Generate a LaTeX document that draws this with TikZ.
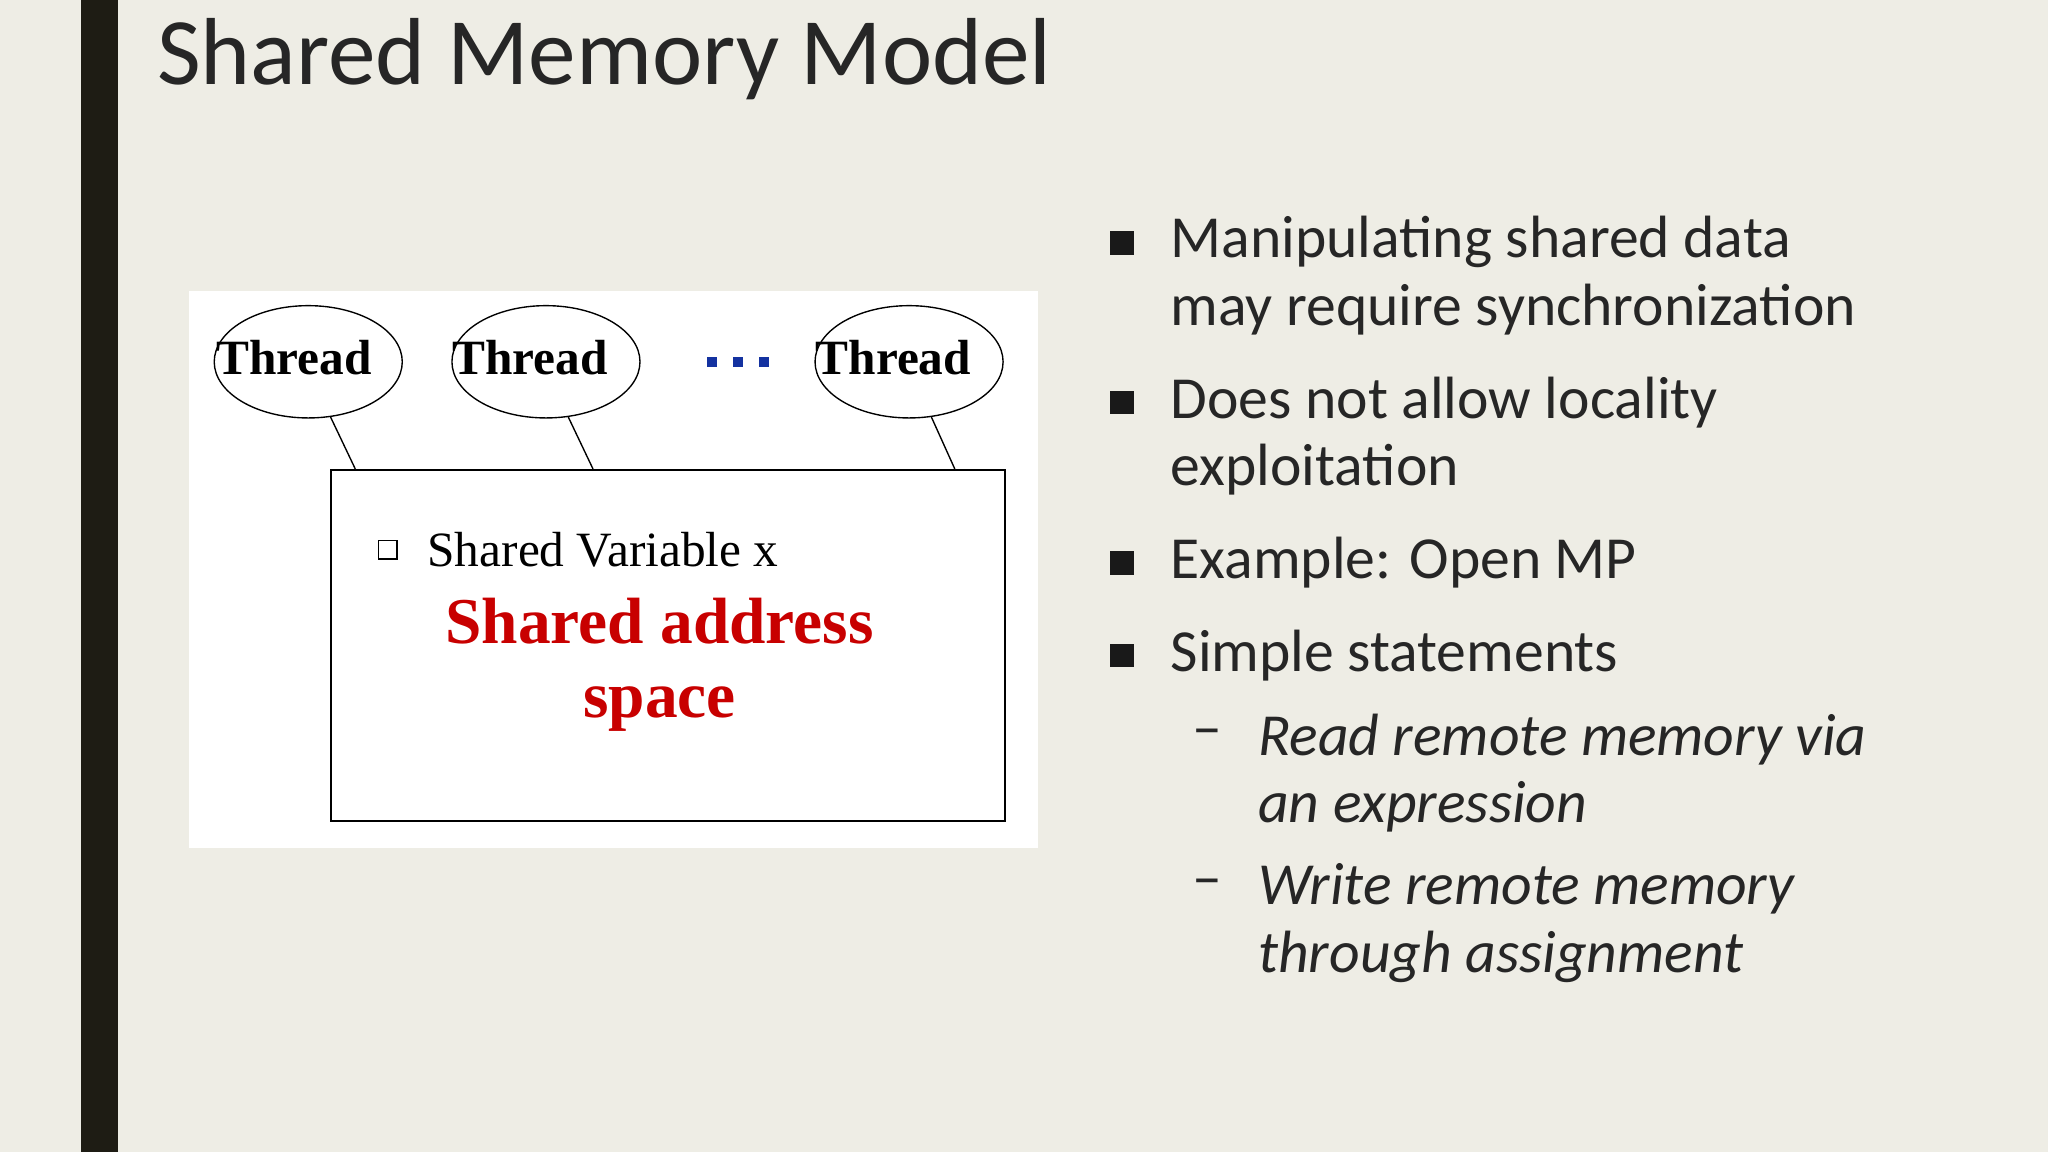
\documentclass[tikz,border=0pt]{standalone}
\usepackage{fontspec}
\usetikzlibrary{shapes.geometric}
\setmainfont{Carlito}
\newfontfamily\serif{Liberation Serif}
\begin{document}
\begin{tikzpicture}[x=0.02cm,y=-0.02cm,
 th/.style={draw,ellipse,line width=0.6pt,minimum width=2.88cm,minimum height=1.72cm},
 ttext/.style={font=\serif\bfseries\fontsize{21.5}{24}\selectfont},
 bul/.style={fill=black!90,minimum size=0.36cm,inner sep=0},
 btxt/.style={anchor=north west,align=left,font=\fontsize{26}{29.6}\selectfont,inner sep=0,text=black!85},
 itxt/.style={btxt,font=\itshape\fontsize{26}{29.6}\selectfont}]
\useasboundingbox (0,0) rectangle (1568,882);
\fill[color={rgb,255:red,238;green,237;blue,229}] (0,0) rectangle (1568,882);
\fill[color={rgb,255:red,30;green,28;blue,20}] (62,0) rectangle (90,882);
\node[anchor=base west,inner sep=0,font=\fontsize{41.5}{45}\selectfont,text=black!85] (title) at (120,65) {Shared Memory Model};
\fill[white] (145,223) rectangle (795,649);
\node[th] (t1) at (236,277) {};
\node[th] (t2) at (418,277) {};
\node[th] (t3) at (696,277) {};
\node[ttext] (l1) at (225,274) {Thread};
\node[ttext] (l2) at (406,274) {Thread};
\node[ttext] (l3) at (684,274) {Thread};
\foreach \x in {545,565,585} \fill[color={rgb,255:red,20;green,50;blue,160}] (\x-4,273) rectangle (\x+4,281);
\node[draw,line width=0.7pt,minimum width=10.32cm,minimum height=5.38cm,anchor=north west,inner sep=0] (box) at (253,359) {};
\coordinate (a1) at (272,359); \coordinate (a2) at (454,359); \coordinate (a3) at (731,359);
\draw[line width=0.6pt] (t1.-68) -- (a1);
\draw[line width=0.6pt] (t2.-68) -- (a2);
\draw[line width=0.6pt] (t3.-68) -- (a3);
\node[draw,line width=0.6pt,minimum size=0.28cm,inner sep=0] (sq) at (297,421) {};
\node[anchor=west,inner sep=0,font=\serif\fontsize{21.5}{24}\selectfont] (sv) at (327,421) {Shared Variable x};
\node[align=center,font=\serif\bfseries\fontsize{28.5}{32.5}\selectfont,text={rgb,255:red,200;green,0;blue,0}] (sa) at (505,509) {Shared address\\space};
\foreach \y/\n in {186/b1,308/b2,431/b3,502/b4} \node[bul] (\n) at (859,\y) {};
\node[btxt] (x1) at (896,165) {Manipulating shared data\\may require synchronization};
\node[btxt] (x2) at (896,288) {Does not allow locality\\exploitation};
\node[btxt] (x3) at (896,411) {Example: Open MP};
\node[btxt] (x4) at (896,482) {Simple statements};
\node[anchor=center,inner sep=0,font=\fontsize{26}{29.6}\selectfont,text=black!85] (d1) at (924,565) {\textendash};
\node[anchor=center,inner sep=0,font=\fontsize{26}{29.6}\selectfont,text=black!85] (d2) at (924,680) {\textendash};
\node[itxt] (y1) at (963,546) {Read remote memory via\\an expression};
\node[itxt] (y2) at (963,661) {Write remote memory\\through assignment};
\end{tikzpicture}
\end{document}
